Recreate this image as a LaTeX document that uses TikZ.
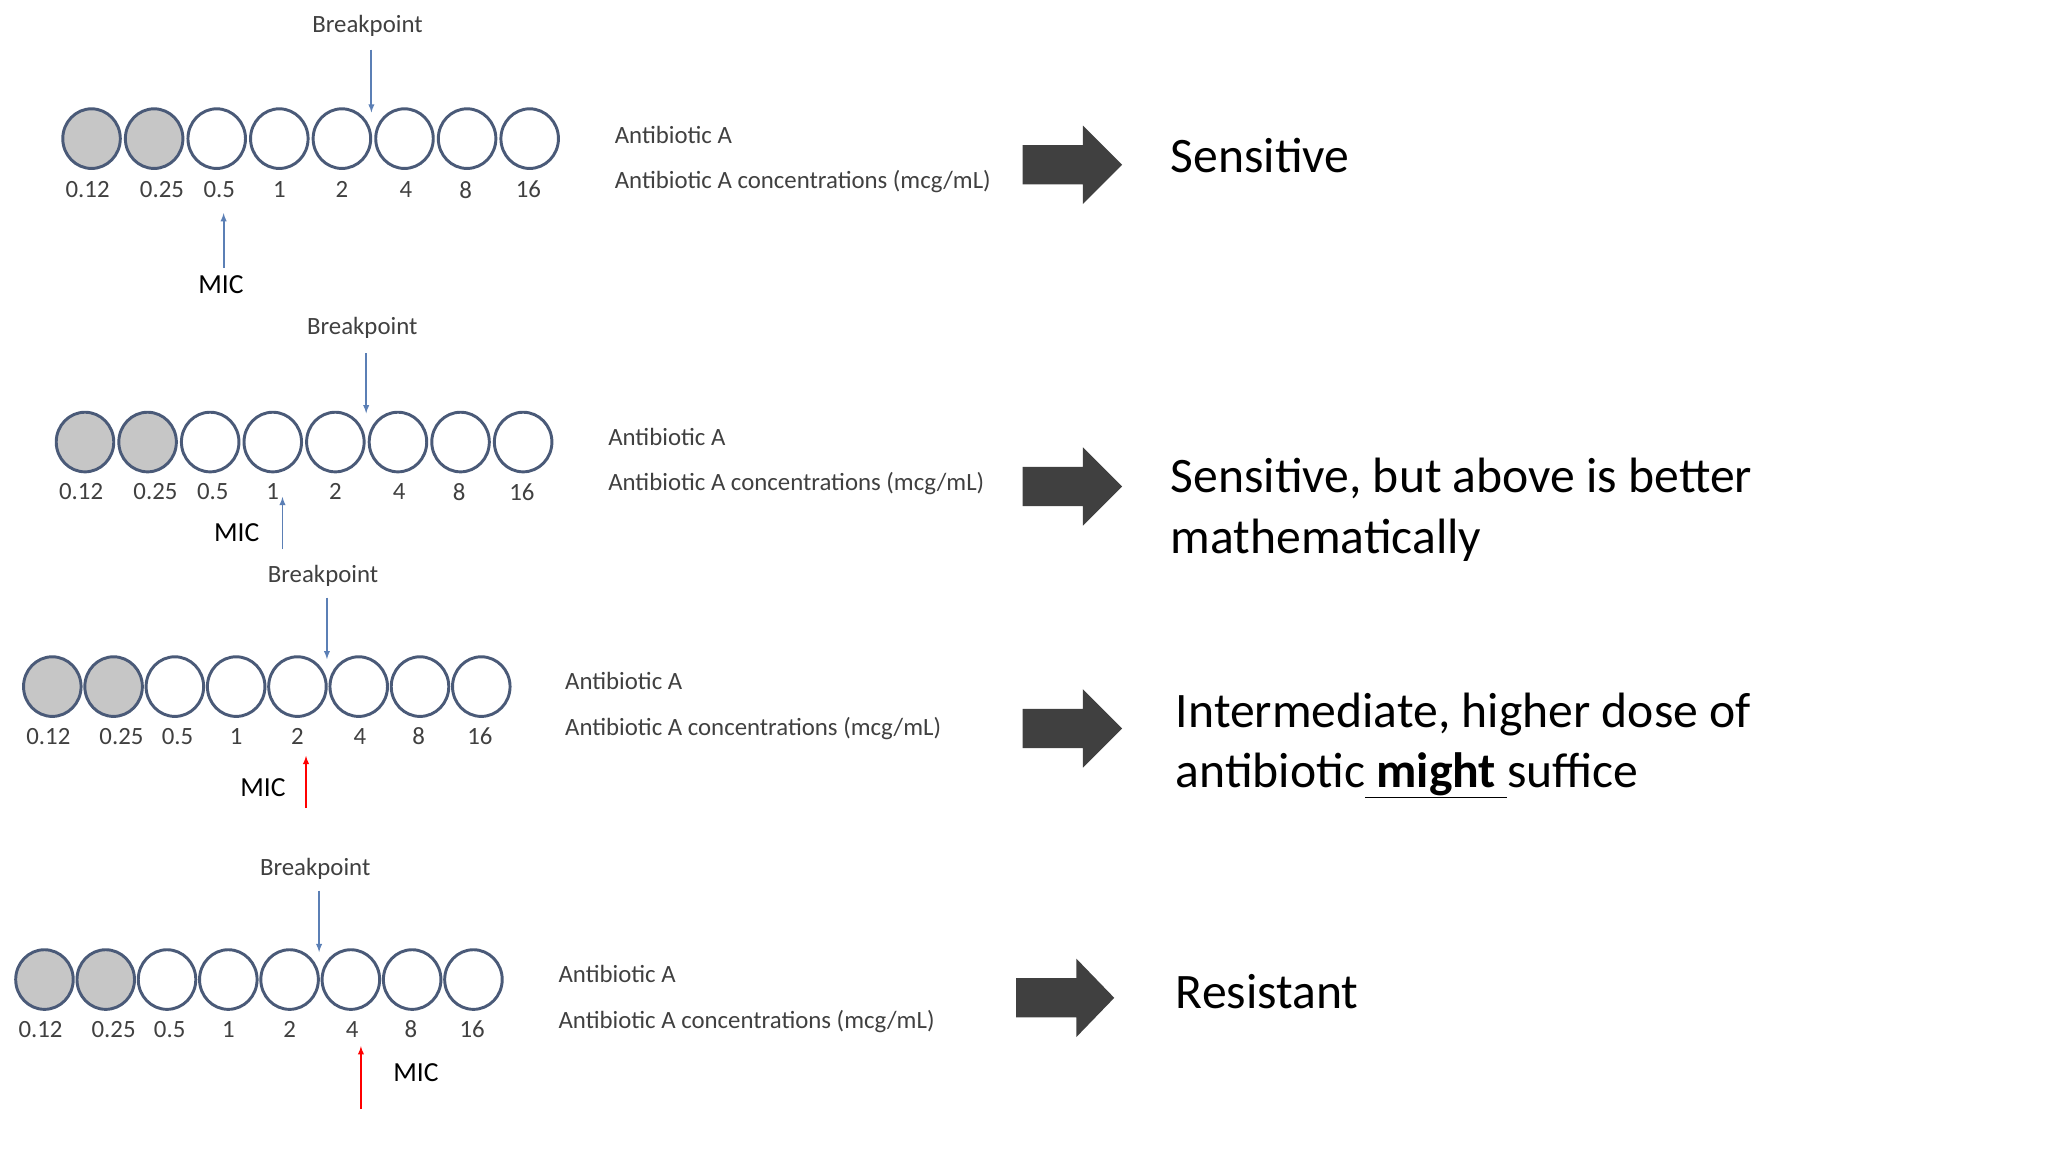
\documentclass[tikz,border=0pt]{standalone}
\usepackage{fontspec}
\setmainfont{Carlito}
\usetikzlibrary{shapes.geometric}
\begin{document}
\begin{tikzpicture}[x=0.05cm,y=-0.05cm,
  well/.style={ellipse,draw=wellc,line width=3.2pt,minimum width=2.2cm,minimum height=2.28cm,inner sep=0pt,fill=white},
  full/.style={well,fill=gray!45},
  num/.style={font=\fontsize{27}{30}\selectfont,text=black!75,inner sep=0pt},
  small/.style={font=\fontsize{27}{30}\selectfont,text=black!75,anchor=west,inner sep=0pt},
  bp/.style={font=\fontsize{27}{30}\selectfont,text=black!75,inner sep=0pt},
  mic/.style={font=\fontsize{30}{34}\selectfont,inner sep=0pt},
  big/.style={font=\fontsize{54}{66}\selectfont,anchor=west,align=left,inner sep=0pt},
  barr/.style={->,>=latex,draw=arrc,line width=2pt},
  rarr/.style={->,>=latex,draw=red,line width=2pt},
  blk/.style={fill=black!75}]
\definecolor{wellc}{HTML}{4A5A78}
\definecolor{arrc}{HTML}{5B7FB5}
\path[use as bounding box] (0,0) rectangle (1566,881);
\newcommand{\wellrow}[5]{% prefix, x0, dx, y, labely
  \foreach \v/\o [count=\i] in {0.12/-3,0.25/6,0.5/2,1/0,2/0,4/1,8/-1,16/-1}{
    \ifnum\i<3 \node[full] (#1c\i) at ({#2+(\i-1)*#3},#4) {};
    \else \node[well] (#1c\i) at ({#2+(\i-1)*#3},#4) {};\fi
    \node[num] (#1l\i) at ({#2+(\i-1)*#3+\o},#5) {\v};}}
% row 1
\wellrow{a}{70}{47.86}{106}{145}
\node[bp] (abp) at (281,20) {Breakpoint};
\draw[barr] (284,38) -- (284,86);
\node[mic] (amic) at (169,218) {MIC};
\draw[barr] (171,205) -- (171,163);
\node[small] (aa) at (470,103) {Antibiotic A};
\node[small] (ac) at (470,139) {Antibiotic A concentrations (mcg/mL)};
\fill[blk] (782,111) -- (828,111) -- (828,96) -- (858,126) -- (828,156) -- (828,141) -- (782,141) -- cycle;
\node[big] (ares) at (895,119) {Sensitive};
% row 2
\wellrow{b}{65}{47.86}{338}{376}
\node[bp] (bbp) at (277,251) {Breakpoint};
\draw[barr] (280,270) -- (280,316);
\node[mic] (bmic) at (181,407) {MIC};
\draw[barr] (216,420) -- (216,380);
\node[small] (ba) at (465,334) {Antibiotic A};
\node[small] (bc) at (465,370) {Antibiotic A concentrations (mcg/mL)};
\fill[blk] (782,357) -- (828,357) -- (828,342) -- (858,372) -- (828,402) -- (828,387) -- (782,387) -- cycle;
\node[big] (bres) at (895,390) {Sensitive, but above is better\\mathematically};
% row 3
\wellrow{c}{40}{46.86}{525}{563}
\node[bp] (cbp) at (247,440) {Breakpoint};
\draw[barr] (250,457) -- (250,504);
\node[mic] (cmic) at (201,602) {MIC};
\draw[rarr] (234,618) -- (234,578);
\node[small] (ca) at (432,521) {Antibiotic A};
\node[small] (cc) at (432,557) {Antibiotic A concentrations (mcg/mL)};
\fill[blk] (782,542) -- (828,542) -- (828,527) -- (858,557) -- (828,587) -- (828,572) -- (782,572) -- cycle;
\node[big] (cres) at (899,570) {Intermediate, higher dose of\\antibiotic\underline{\ \textbf{might}\ }suffice};
% row 4
\wellrow{d}{34}{46.86}{749}{787}
\node[bp] (dbp) at (241,664) {Breakpoint};
\draw[barr] (244,681) -- (244,728);
\node[mic] (dmic) at (318,820) {MIC};
\draw[rarr] (276,848) -- (276,800);
\node[small] (da) at (427,745) {Antibiotic A};
\node[small] (dc) at (427,781) {Antibiotic A concentrations (mcg/mL)};
\fill[blk] (777,748) -- (823,748) -- (823,733) -- (852,763) -- (823,793) -- (823,778) -- (777,778) -- cycle;
\node[big] (dres) at (899,758) {Resistant};
\end{tikzpicture}
\end{document}
